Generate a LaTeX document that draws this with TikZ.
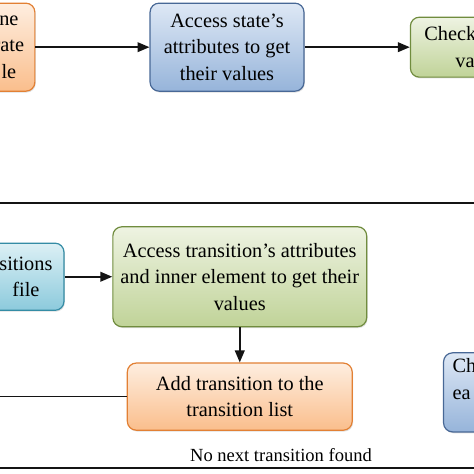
\documentclass[tikz,border=0pt]{standalone}
\usepackage{fontspec}
\setmainfont{Liberation Serif}
\usepackage{tikz}
\usetikzlibrary{arrows.meta, positioning, shadows}
\definecolor{orgline}{RGB}{226,128,52}
\definecolor{orgtop}{RGB}{254,238,224}
\definecolor{orgbot}{RGB}{250,190,140}
\definecolor{blueline}{RGB}{72,104,150}
\definecolor{bluetop}{RGB}{222,232,245}
\definecolor{bluebot}{RGB}{150,180,218}
\definecolor{grnline}{RGB}{112,140,62}
\definecolor{grntop}{RGB}{238,243,226}
\definecolor{grnbot}{RGB}{192,211,152}
\definecolor{tealline}{RGB}{52,140,165}
\definecolor{tealtop}{RGB}{220,240,245}
\definecolor{tealbot}{RGB}{140,202,220}
\definecolor{mydark}{RGB}{20,20,20}
\newcommand\boxfont{\fontsize{13.6}{17.7}\selectfont}
\newcommand\notefont{\fontsize{12.4}{15}\selectfont}
\tikzset{
  orgblock/.style={rectangle, draw=orgline, top color=orgtop, bottom color=orgbot,
    align=center, font=\boxfont, rounded corners=6pt, line width=0.8pt,
    drop shadow={opacity=0.25, shadow xshift=0.6pt, shadow yshift=-0.9pt}},
  blueblock/.style={rectangle, draw=blueline, top color=bluetop, bottom color=bluebot,
    align=center, font=\boxfont, rounded corners=6pt, line width=0.8pt,
    drop shadow={opacity=0.25, shadow xshift=0.6pt, shadow yshift=-0.9pt}},
  grnblock/.style={rectangle, draw=grnline, top color=grntop, bottom color=grnbot,
    align=center, font=\boxfont, rounded corners=6pt, line width=0.8pt,
    drop shadow={opacity=0.25, shadow xshift=0.6pt, shadow yshift=-0.9pt}},
  tealblock/.style={rectangle, draw=tealline, top color=tealtop, bottom color=tealbot,
    align=center, font=\boxfont, rounded corners=6pt, line width=0.8pt,
    drop shadow={opacity=0.25, shadow xshift=0.6pt, shadow yshift=-0.9pt}},
  arrow/.style={-{Triangle[length=8pt, width=6.5pt]}, line width=1.1pt, color=mydark},
  line/.style={line width=1.1pt, color=mydark}
}
\begin{document}
\begin{tikzpicture}
  \useasboundingbox (0,0) rectangle (11.15,11.15);
  \node[orgblock, minimum width=1.22cm, minimum height=2.07cm] (statefile) at (0.21,10.04) {ne\\rate\\le};
  \node[blueblock, minimum width=3.62cm, minimum height=2.07cm] (stateattr) at (5.34,10.04) {Access state's\\attributes to get\\their values};
  \node[grnblock, anchor=west, minimum height=1.41cm, text width=2.87cm, align=left, inner xsep=0.33cm] (checkvalue) at (9.64,10.04) {Check\\\hspace*{0.73cm}va};
  \draw[arrow] (statefile) -- (stateattr);
  \draw[arrow] (stateattr) -- (checkvalue);

  \draw[line width=1.2pt, mydark] (-0.3,6.37) rectangle (11.5,0.14);
  \node[tealblock, minimum width=1.79cm, minimum height=1.58cm] (transfile) at (0.61,4.64) {sitions\\file};
  \node[grnblock, minimum width=5.97cm, minimum height=2.35cm] (transattr) at (5.64,4.64) {Access transition's attributes\\and inner element to get their\\values};
  \node[orgblock, minimum width=5.29cm, minimum height=1.58cm] (addtrans) at (5.64,1.82) {Add transition to the\\transition list};
  \node[blueblock, anchor=west, minimum height=1.86cm, text width=3.1cm, align=left, inner xsep=0.21cm] (checkeach) at (10.42,1.92) {Ch\\ea\\\mbox{}};
  \node[font=\notefont] (notfound) at (6.61,0.45) {No next transition found};
  \coordinate (loopend) at (-0.2,1.82);
  \draw[arrow] (transfile) -- (transattr);
  \draw[arrow] (transattr) -- (addtrans);
  \draw[line] (addtrans) -- (loopend);
\end{tikzpicture}
\end{document}
